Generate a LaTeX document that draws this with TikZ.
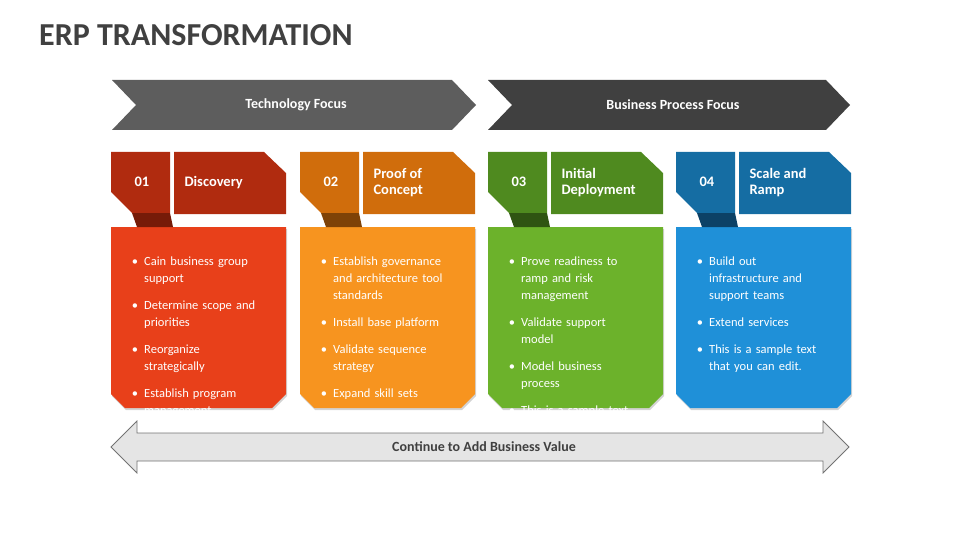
\documentclass[tikz,border=0pt]{standalone}
\usepackage{fontspec}
\setmainfont{Carlito}
\usetikzlibrary{shadows}
\definecolor{ttl}{HTML}{404040}
\definecolor{cA}{HTML}{B02B0F}\definecolor{bA}{HTML}{E8401A}\definecolor{dA}{HTML}{761B08}
\definecolor{cB}{HTML}{D06D0C}\definecolor{bB}{HTML}{F7941F}\definecolor{dB}{HTML}{7E4207}
\definecolor{cC}{HTML}{4F8A1F}\definecolor{bC}{HTML}{6CB22B}\definecolor{dC}{HTML}{2F5412}
\definecolor{cD}{HTML}{156DA3}\definecolor{bD}{HTML}{1F90D8}\definecolor{dD}{HTML}{0C4166}
\tikzset{hdr/.style={text=white,font=\bfseries\fontsize{14.5}{16}\selectfont,align=left,anchor=west},
 bodytxt/.style={text=white,font=\fontsize{12.5}{17}\selectfont,anchor=north west,text width=140pt,align=left,inner sep=0pt}}
\newcommand{\mycard}[7]{% x, hdr, body, dark, num, title, items
\begin{scope}[xshift=#1pt]
\fill[#3,drop shadow={shadow xshift=1pt,shadow yshift=-2pt,opacity=.35}] (0,227)--(175,227)--(175,394)--(161,408)--(14,408)--(0,394)--cycle;
\fill[#2] (0,152)--(59,152)--(59,213)--(21,213)--(0,192)--cycle;
\fill[#4] (21,213)--(59,213)--(62,227)--(26,227)--cycle;
\fill[#2] (63,152)--(153,152)--(175,173)--(175,214)--(63,214)--cycle;
\node[hdr] (n#5) at (20,182) {#5};
\node[hdr] (t#5) at (70,183) {#6};
\node[bodytxt] (b#5) at (8,240) {\begin{itemize}\setlength{\itemsep}{6pt}\setlength{\parsep}{0pt}\setlength{\topsep}{0pt}\setlength{\leftmargin}{13pt}\setlength{\labelsep}{6pt}\setlength{\labelwidth}{7pt}#7\end{itemize}};
\end{scope}}
\begin{document}
\begin{tikzpicture}[x=1pt,y=-1pt]
\useasboundingbox (0,0) rectangle (960,540);
\node[anchor=west,text=ttl,font=\bfseries\fontsize{32}{34}\selectfont,inner sep=0pt] (title) at (39,35) {ERP TRANSFORMATION};
\fill[ttl!85!white] (112,80)--(452,80)--(476,105)--(452,130)--(112,130)--(136,105)--cycle;
\node[text=white,font=\bfseries\fontsize{14}{16}\selectfont] (tf) at (296,105) {Technology Focus};
\fill[ttl] (488,80)--(826,80)--(850,105)--(826,130)--(488,130)--(512,105)--cycle;
\node[text=white,font=\bfseries\fontsize{14}{16}\selectfont] (bp) at (673,105) {Business Process Focus};
\mycard{111}{cA}{bA}{dA}{01}{Discovery}{\item Cain business group support \item Determine scope and priorities \item Reorganize strategically \item Establish program management}
\mycard{300}{cB}{bB}{dB}{02}{Proof of\\Concept}{\item Establish governance and architecture tool standards \item Install base platform \item Validate sequence strategy \item Expand skill sets}
\mycard{488}{cC}{bC}{dC}{03}{Initial\\Deployment}{\item Prove readiness to ramp and risk management \item Validate support model \item Model business process \item This is a sample text that you can edit.}
\mycard{676}{cD}{bD}{dD}{04}{Scale and\\Ramp}{\item Build out infrastructure and support teams \item Extend services \item This is a sample text that you can edit.}
\draw[fill=black!10,draw=black!55,line width=0.8pt] (111,447)--(137,421)--(137,433)--(823,433)--(823,421)--(849,447)--(823,473)--(823,461)--(137,461)--(137,473)--cycle;
\node[text=ttl,font=\bfseries\fontsize{14}{16}\selectfont] (cv) at (484,447) {Continue to Add Business Value};
\end{tikzpicture}
\end{document}
